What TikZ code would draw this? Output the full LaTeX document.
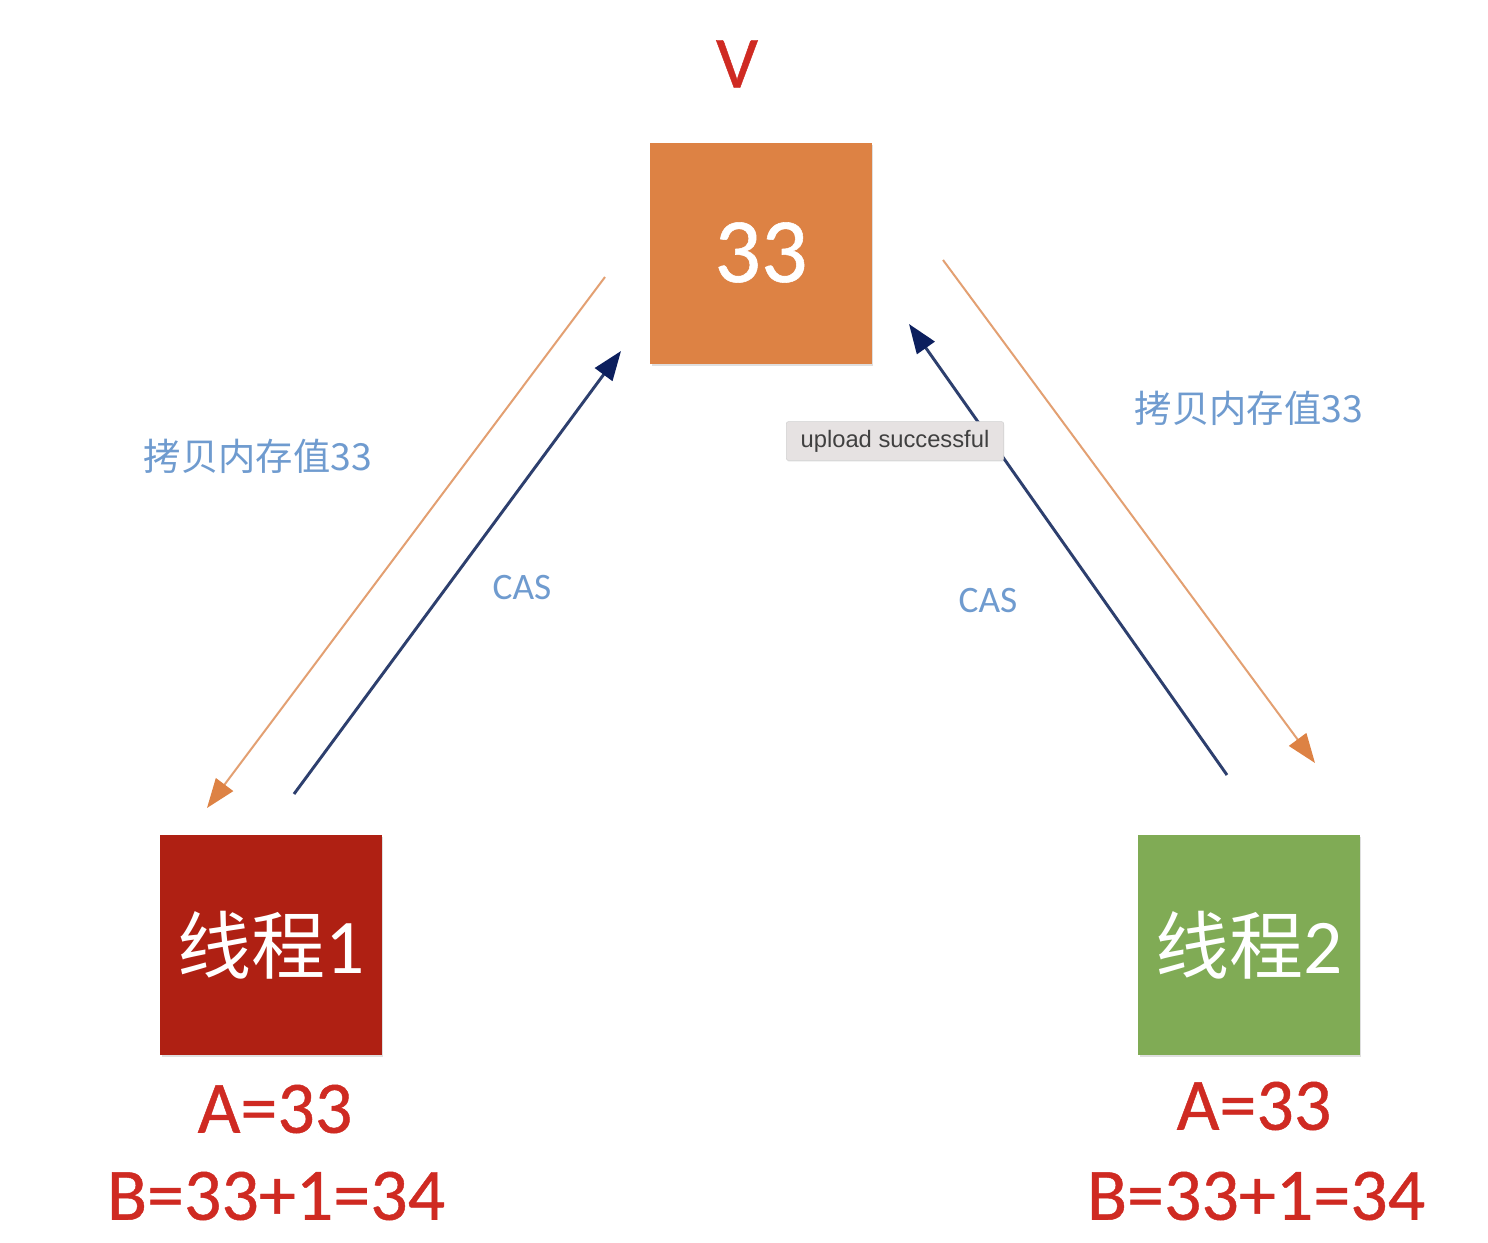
\documentclass[tikz,border=0pt]{standalone}
\usepackage{fontspec}
\setmainfont{Carlito}
\newfontfamily\cjk{Noto Sans CJK SC}
\newfontfamily\ui{Liberation Sans}
\newfontfamily\redfont[FakeBold=0.6]{Carlito}
\usetikzlibrary{arrows.meta,shadows}
\definecolor{org}{HTML}{DD8244}
\definecolor{orgline}{HTML}{E3A072}
\definecolor{navy}{HTML}{0C1F5E}
\definecolor{navyline}{HTML}{2D3F6E}
\definecolor{lbl}{HTML}{6F9BCF}
\definecolor{redt}{HTML}{CF2A22}
\definecolor{dred}{HTML}{AF2013}
\definecolor{grn}{HTML}{80AB55}
\definecolor{tipfill}{HTML}{E6E2E2}
\tikzset{
 sq/.style={minimum width=166pt,minimum height=165.5pt,inner sep=0pt,text=white,draw=none,drop shadow={shadow xshift=1pt,shadow yshift=-1.5pt,opacity=0.25}},
 orgarrow/.style={draw=orgline,line width=1.5pt,-{Triangle[length=22pt,width=16pt,color=org]}},
 navyarrow/.style={draw=navyline,line width=2.2pt,-{Triangle[length=22pt,width=16pt,color=navy]}},
 lab/.style={text=lbl,font=\cjk\fontsize{28}{28}\selectfont,inner sep=0pt},
 cas/.style={text=lbl,font=\fontsize{28}{28}\selectfont,inner sep=0pt},
 redtext/.style={text=redt,font=\redfont\fontsize{55.5}{55.5}\selectfont,inner sep=0pt},
 tip/.style={fill=tipfill,draw=black!18,rounded corners=1.5pt,minimum width=163pt,minimum height=29pt,inner sep=0pt,text=black!75,font=\ui\fontsize{17.8}{17.8}\selectfont,drop shadow={shadow xshift=0.5pt,shadow yshift=-1pt,opacity=0.15}}
}
\begin{document}
\begin{tikzpicture}[x=0.75pt,y=-0.75pt]
\useasboundingbox (0,0) rectangle (1488,1242);
\fill[white] (0,0) rectangle (1488,1242);
\node[sq,fill=org,font=\redfont\fontsize{69}{69}\selectfont] (v) at (761,253.5) {\raisebox{2pt}{33}};
\node[sq,fill=dred,font=\fontsize{58}{58}\selectfont] (t1) at (271,945) {\raisebox{4.5pt}{{\cjk\fontsize{55.5}{55.5}\selectfont 线程}1}};
\node[sq,fill=grn,font=\fontsize{58}{58}\selectfont] (t2) at (1249,945) {\raisebox{4.5pt}{{\cjk\fontsize{55.5}{55.5}\selectfont 线程}2}};
\node[redtext] (vl) at (737,64) {V};
\node[redtext] (a1) at (275,1109) {A=33};
\node[redtext] (b1) at (276,1196) {B=33+1=34};
\node[redtext] (a2) at (1254,1106) {A=33};
\node[redtext] (b2) at (1256,1196) {B=33+1=34};
\coordinate (o1s) at (605,277); \coordinate (o1e) at (207,808);
\coordinate (n1s) at (294,794); \coordinate (n1e) at (621,351);
\coordinate (o2s) at (943,260); \coordinate (o2e) at (1315,763);
\coordinate (n2s) at (1227,775); \coordinate (n2e) at (909,324);
\draw[orgarrow] (o1s) -- (o1e);
\draw[navyarrow] (n1s) -- (n1e);
\draw[orgarrow] (o2s) -- (o2e);
\draw[navyarrow] (n2s) -- (n2e);
\node[lab] (l1) at (258,456) {拷贝内存值33};
\node[lab] (l2) at (1249,408) {拷贝内存值33};
\node[cas] (c1) at (522,588) {CAS};
\node[cas] (c2) at (988,601) {CAS};
\node[tip] (tp) at (895,441) {upload successful};
\end{tikzpicture}
\end{document}
